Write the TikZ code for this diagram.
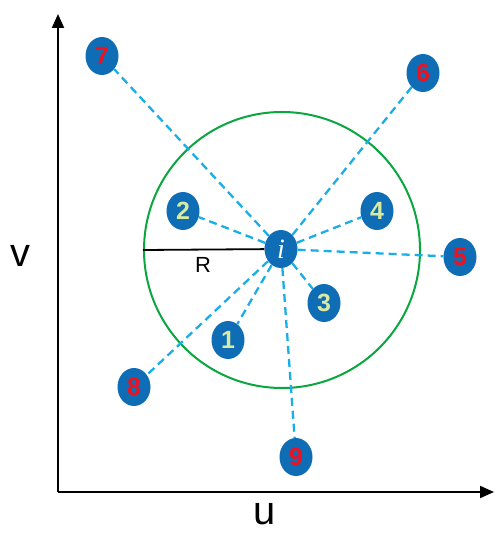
\documentclass[tikz,border=0pt]{standalone}
\usepackage{fontspec}
\setmainfont{Liberation Sans}
\newfontfamily\serifit{Liberation Serif}
\usetikzlibrary{shapes.geometric,arrows.meta,positioning}

\definecolor{nodeblue}{HTML}{0E6DB5}
\definecolor{linkcyan}{HTML}{1AAEE8}
\definecolor{rimgreen}{HTML}{0AA640}
\definecolor{numyellow}{HTML}{D8EBA0}
\definecolor{numred}{HTML}{F2101C}

\begin{document}
\begin{tikzpicture}[
    x=1bp, y=-1bp,
    agent/.style={ellipse, fill=nodeblue, draw=none, minimum width=33bp, minimum height=38bp, inner sep=0pt, font=\fontsize{25}{27}\selectfont\bfseries},
    near/.style={agent, text=numyellow},
    far/.style={agent, text=numred},
    link/.style={draw=linkcyan, dash pattern=on 8bp off 5bp, line width=2.3bp},
    axis/.style={draw, -{Triangle[length=14bp, width=12bp]}, line width=2bp}
]
    \useasboundingbox (0,0) rectangle (504,550);

    % axes
    \coordinate (origin) at (58,492);
    \coordinate (vtip) at (58,14);
    \coordinate (utip) at (494,492);
    \draw [axis] (origin) -- (vtip);
    \draw [axis] (origin) -- (utip);
    \node (vlab) at (20,256) {\fontsize{40}{44}\selectfont v};
    \node (ulab) at (265,514) {\fontsize{40}{44}\selectfont u};

    % neighbourhood
    \node [circle, draw=rimgreen, line width=2bp, minimum size=276bp, inner sep=0pt] (hood) at (282,250) {};

    % agents
    \node [agent, text=white, font=\fontsize{28}{30}\selectfont\serifit\itshape] (ci) at (281,249) {i};
    \node [near] (n1) at (228,340) {1};
    \node [near] (n2) at (183,211) {2};
    \node [near] (n3) at (324,303) {3};
    \node [near] (n4) at (377,211) {4};
    \node [far] (n5) at (460,257) {5};
    \node [far] (n6) at (423,73) {6};
    \node [far] (n7) at (102,56) {7};
    \node [far] (n8) at (134,387) {8};
    \node [far] (n9) at (296,457) {9};

    % radius
    \draw [line width=1.8bp] (hood.west) -- (ci);
    \node (rlab) at (203,265) {\fontsize{22}{24}\selectfont R};

    % links
    \foreach \k in {1,...,9}
        \draw [link] (ci) -- (n\k);
\end{tikzpicture}
\end{document}
